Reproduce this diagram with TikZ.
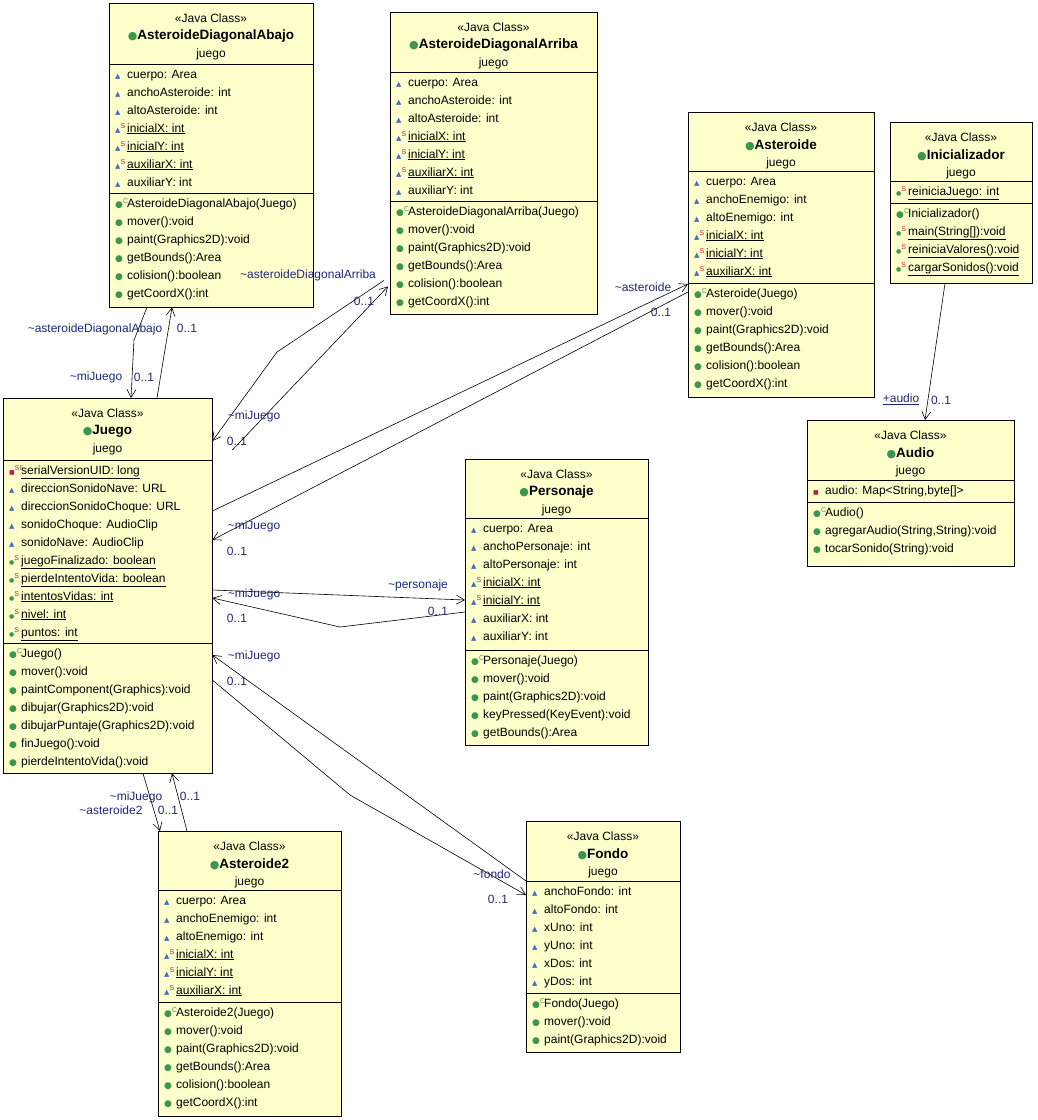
\documentclass[tikz,border=0pt]{standalone}
\usetikzlibrary{calc,arrows.meta}
\usepackage{fontspec}
\setmainfont{Liberation Sans}
\newfontfamily\symf{DejaVu Sans}
\definecolor{ylw}{RGB}{255,255,204}
\definecolor{lbl}{RGB}{30,40,120}
\definecolor{pkb}{RGB}{70,110,200}
\definecolor{grn}{RGB}{60,150,80}
\definecolor{rd}{RGB}{190,30,60}
\newcommand\mysupr[1]{\raisebox{4pt}{\fontsize{7}{7}\selectfont\textcolor{rd}{#1}}}
\newcommand\mysupg[1]{\raisebox{4pt}{\fontsize{7}{7}\selectfont\textcolor{grn}{#1}}}
\newcommand\mytri{{\symf\fontsize{7}{7}\selectfont\textcolor{pkb}{▲}}}
\newcommand\mydot{{\symf\fontsize{9}{9}\selectfont\textcolor{grn}{●}}}
\newcommand\mysdot{{\symf\fontsize{6}{6}\selectfont\textcolor{grn}{●}}}
\newcommand\mysq{{\symf\fontsize{6}{6}\selectfont\textcolor{rd}{■}}}
\newcommand\myic[1]{\makebox[12pt][l]{#1}}
\newcommand\pk[1]{\myic{\mytri}#1}
\newcommand\pkS[1]{\myic{\mytri\mysupr{S}}\underline{#1}}
\newcommand\pu[1]{\myic{\mydot}#1}
\newcommand\puS[1]{\myic{\mysdot\mysupr{S}}\underline{#1}}
\newcommand\puC[1]{\myic{\mydot\mysupg{C}}#1}
\newcommand\pr[1]{\myic{\mysq}#1}
\newcommand\ctitle[1]{{\symf\fontsize{11}{11}\selectfont\textcolor{grn}{●}}#1}
\tikzset{box/.style={draw=black,fill=ylw,inner sep=0pt,anchor=north west},
 row/.style={anchor=base west,inner sep=0pt,font=\fontsize{12}{14}\selectfont},
 asc/.style={-{Straight Barb[length=8pt,width=9pt]},black,line width=0.6pt},
 lab/.style={text=lbl,font=\fontsize{12}{14}\selectfont,inner sep=1pt}}
\newcommand\cls[8]{%
 \pgfmathsetmacro\hh{#7-#3}%
 \node[box,minimum width=#4pt,minimum height=\hh pt] (#1) at (#2,#3) {};
 \draw (#2,#5) -- ++(#4,0); \draw (#2,#6) -- ++(#4,0);
 \node[font=\fontsize{12}{14}\selectfont] (#1s) at (#2+#4/2,#3+15) {<<Java Class>>};
 \node[font=\fontsize{13.5}{15}\selectfont\bfseries] (#1t) at (#2+#4/2,#3+33) {\ctitle{#8}};
 \node[font=\fontsize{12}{14}\selectfont] (#1p) at (#2+#4/2,#3+51) {juego};}
\newcommand\rows[4]{\foreach \t [count=\i] in {#4} \node[row] (#1r\i) at (#2+6,#3+14+18*\i-18) {\t};}
\begin{document}
\begin{tikzpicture}[x=1pt,y=-1pt]
\useasboundingbox[fill=white] (0,0) rectangle (1038,1120);
% classes
\cls{ADA}{109}{3}{204}{64}{193}{307}{AsteroideDiagonalAbajo}
\rows{ADA}{109}{64}{\pk{cuerpo: Area},\pk{anchoAsteroide: int},\pk{altoAsteroide: int},\pkS{inicialX: int},\pkS{inicialY: int},\pkS{auxiliarX: int},\pk{auxiliarY: int}}
\rows{ADAm}{109}{193}{\puC{AsteroideDiagonalAbajo(Juego)},\pu{mover():void},\pu{paint(Graphics2D):void},\pu{getBounds():Area},\pu{colision():boolean},\pu{getCoordX():int}}
\cls{ADR}{390}{12}{207}{72}{201}{314}{AsteroideDiagonalArriba}
\rows{ADR}{390}{72}{\pk{cuerpo: Area},\pk{anchoAsteroide: int},\pk{altoAsteroide: int},\pkS{inicialX: int},\pkS{inicialY: int},\pkS{auxiliarX: int},\pk{auxiliarY: int}}
\rows{ADRm}{390}{201}{\puC{AsteroideDiagonalArriba(Juego)},\pu{mover():void},\pu{paint(Graphics2D):void},\pu{getBounds():Area},\pu{colision():boolean},\pu{getCoordX():int}}
\cls{AST}{688}{112}{186}{171}{283}{397}{Asteroide}
\rows{AST}{688}{171}{\pk{cuerpo: Area},\pk{anchoEnemigo: int},\pk{altoEnemigo: int},\pkS{inicialX: int},\pkS{inicialY: int},\pkS{auxiliarX: int}}
\rows{ASTm}{688}{283}{\puC{Asteroide(Juego)},\pu{mover():void},\pu{paint(Graphics2D):void},\pu{getBounds():Area},\pu{colision():boolean},\pu{getCoordX():int}}
\cls{INI}{890}{122}{142}{181}{203}{283}{Inicializador}
\rows{INI}{890}{181}{\puS{reiniciaJuego: int}}
\rows{INIm}{890}{203}{\puC{Inicializador()},\puS{main(String[]):void},\puS{reiniciaValores():void},\puS{cargarSonidos():void}}
\cls{AUD}{807}{420}{207}{480}{502}{566}{Audio}
\rows{AUD}{807}{480}{{\pr{audio: Map<String,byte[]>}}}
\rows{AUDm}{807}{502}{\puC{Audio()},{\pu{agregarAudio(String,String):void}},\pu{tocarSonido(String):void}}
\cls{J}{3}{398}{209}{460}{643}{773}{Juego}
\rows{J}{3}{460}{\myic{\mysq\mysupr{S}\mysupg{F}}\underline{serialVersionUID: long},\pk{direccionSonidoNave: URL},\pk{direccionSonidoChoque: URL},\pk{sonidoChoque: AudioClip},\pk{sonidoNave: AudioClip},\puS{juegoFinalizado: boolean},\puS{pierdeIntentoVida: boolean},\puS{intentosVidas: int},\puS{nivel: int},\puS{puntos: int}}
\rows{Jm}{3}{643}{\puC{Juego()},\pu{mover():void},\pu{paintComponent(Graphics):void},\pu{dibujar(Graphics2D):void},\pu{dibujarPuntaje(Graphics2D):void},\pu{finJuego():void},\pu{pierdeIntentoVida():void}}
\cls{PER}{465}{459}{183}{518}{650}{745}{Personaje}
\rows{PER}{465}{518}{\pk{cuerpo: Area},\pk{anchoPersonaje: int},\pk{altoPersonaje: int},\pkS{inicialX: int},\pkS{inicialY: int},\pk{auxiliarX: int},\pk{auxiliarY: int}}
\rows{PERm}{465}{650}{\puC{Personaje(Juego)},\pu{mover():void},\pu{paint(Graphics2D):void},\pu{keyPressed(KeyEvent):void},\pu{getBounds():Area}}
\cls{A2}{158}{831}{183}{890}{1002}{1116}{Asteroide2}
\rows{A2}{158}{890}{\pk{cuerpo: Area},\pk{anchoEnemigo: int},\pk{altoEnemigo: int},\pkS{inicialX: int},\pkS{inicialY: int},\pkS{auxiliarX: int}}
\rows{A2m}{158}{1002}{\puC{Asteroide2(Juego)},\pu{mover():void},\pu{paint(Graphics2D):void},\pu{getBounds():Area},\pu{colision():boolean},\pu{getCoordX():int}}
\cls{FON}{526}{821}{154}{881}{993}{1052}{Fondo}
\rows{FON}{526}{881}{\pk{anchoFondo: int},\pk{altoFondo: int},\pk{xUno: int},\pk{yUno: int},\pk{xDos: int},\pk{yDos: int}}
\rows{FONm}{526}{993}{\puC{Fondo(Juego)},\pu{mover():void},\pu{paint(Graphics2D):void}}
% connectors
\draw[asc] ($(ADA.south west)+(38,0)$) -- (134,340) -- ($(J.north west)+(128,0)$);
\draw[asc] ($(J.north west)+(154,0)$) -- ($(ADA.south west)+(63,0)$);
\draw[asc] ($(ADR.south west)+(-6,-34)$) -- (277,352) -- ($(J.north east)+(0,43)$);
\draw[asc] ($(J.north east)+(20,52)$) -- ($(ADR.south west)+(-2,-28)$);
\draw[asc] ($(AST.north west)+(0,180)$) -- ($(J.north east)+(0,142)$);
\draw[asc] ($(J.north east)+(0,113)$) -- ($(AST.north west)+(0,172)$);
\draw[asc] ($(J.north east)+(0,192)$) -- ($(PER.north west)+(0,141)$);
\draw[asc] ($(PER.north west)+(0,153)$) -- (340,627) -- ($(J.north east)+(0,200)$);
\draw[asc] ($(J.north east)+(0,282)$) -- (350,795) -- ($(FON.north west)+(0,74)$);
\draw[asc] ($(FON.north west)+(0,60)$) -- ($(J.north east)+(0,257)$);
\draw[asc] ($(J.south west)+(140,0)$) -- ($(A2.north west)+(2,0)$);
\draw[asc] ($(A2.north west)+(29,0)$) -- ($(J.south west)+(169,0)$);
\draw[asc] ($(INI.south west)+(55,0)$) -- ($(AUD.north west)+(118,0)$);
% labels
\node[lab] (l1) at (95,329) {\textasciitilde asteroideDiagonalAbajo};
\node[lab] (l2) at (96,377) {\textasciitilde miJuego};
\node[lab] (l3) at (144,377) {0..1};
\node[lab] (l4) at (187,328) {0..1};
\node[lab] (l5) at (308,275) {\textasciitilde asteroideDiagonalArriba};
\node[lab] (l6) at (364,301) {0..1};
\node[lab] (l7) at (254,416) {\textasciitilde miJuego};
\node[lab] (l8) at (237,441) {0..1};
\node[lab] (l9) at (643,287) {\textasciitilde asteroide};
\node[lab] (l10) at (661,312) {0..1};
\node[lab] (l11) at (254,526) {\textasciitilde miJuego};
\node[lab] (l12) at (237,551) {0..1};
\node[lab] (l13) at (418,585) {\textasciitilde personaje};
\node[lab] (l14) at (438,611) {0..1};
\node[lab] (l15) at (254,594) {\textasciitilde miJuego};
\node[lab] (l16) at (237,618) {0..1};
\node[lab] (l17) at (254,656) {\textasciitilde miJuego};
\node[lab] (l18) at (237,681) {0..1};
\node[lab] (l19) at (492,874) {\textasciitilde fondo};
\node[lab] (l20) at (498,899) {0..1};
\node[lab] (l21) at (136,797) {\textasciitilde miJuego};
\node[lab] (l22) at (111,810) {\textasciitilde asteroide2};
\node[lab] (l23) at (168,810) {0..1};
\node[lab] (l24) at (190,796) {0..1};
\node[lab] (l25) at (901,399) {\underline{+audio}};
\node[lab] (l26) at (941,400) {0..1};
\end{tikzpicture}
\end{document}
